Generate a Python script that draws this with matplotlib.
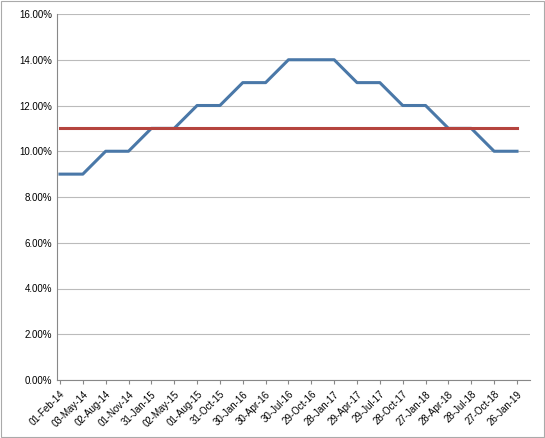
import matplotlib
matplotlib.use("Agg")
import matplotlib.pyplot as plt
from matplotlib.patches import Rectangle
from matplotlib.ticker import FuncFormatter

dates = ["01-Feb-14", "03-May-14", "02-Aug-14", "01-Nov-14", "31-Jan-15", "02-May-15",
         "01-Aug-15", "31-Oct-15", "30-Jan-16", "30-Apr-16", "30-Jul-16", "29-Oct-16",
         "28-Jan-17", "29-Apr-17", "29-Jul-17", "28-Oct-17", "27-Jan-18", "28-Apr-18",
         "28-Jul-18", "27-Oct-18", "26-Jan-19"]
rate = [0.09, 0.09, 0.10, 0.10, 0.11, 0.11, 0.12, 0.12, 0.13, 0.13, 0.14, 0.14,
        0.14, 0.13, 0.13, 0.12, 0.12, 0.11, 0.11, 0.10, 0.10]
benchmark = [0.11] * len(dates)

plt.rcParams["font.family"] = ["Liberation Sans", "DejaVu Sans"]
fig = plt.figure(figsize=(5.45, 4.38), dpi=100)
ax = fig.add_axes([57 / 545, 58 / 438, 473 / 545, 366 / 438])

x = list(range(len(dates)))
ax.plot(x, rate, color="#4A78A8", lw=2.2)
ax.plot(x, benchmark, color="#B5443E", lw=2.2)

ax.set_ylim(0, 0.16)
ax.set_yticks([i * 0.02 for i in range(9)])
ax.yaxis.set_major_formatter(FuncFormatter(lambda v, p: f"{v * 100:.2f}%"))
ax.set_xlim(-0.13, 20.57)
ax.set_xticks(x)
ax.set_xticklabels(dates, rotation=45, ha="right", rotation_mode="anchor")
ax.tick_params(labelsize=7, length=3, color="#888888")
ax.tick_params(axis="y", length=0)
ax.grid(axis="y", color="#BBBBBB", lw=0.8)
ax.set_axisbelow(True)
for s in ["top", "right"]:
    ax.spines[s].set_visible(False)
for s in ["left", "bottom"]:
    ax.spines[s].set_color("#888888")

# light frame around the whole chart
fig.patches.append(Rectangle((0.002, 0.002), 0.996, 0.996, transform=fig.transFigure,
                             fill=False, edgecolor="#AAAAAA", lw=0.8))

fig.savefig("out.png", dpi=100)
